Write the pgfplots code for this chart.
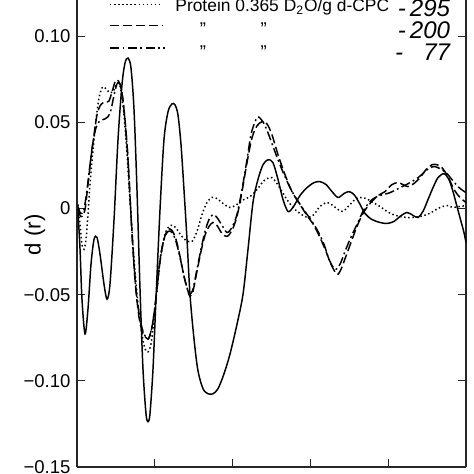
\documentclass[border=0pt]{standalone}
\usepackage{fontspec}
\setmainfont{Liberation Sans}
\usepackage{pgfplots}
\pgfplotsset{compat=1.18}
\begin{document}
\begin{tikzpicture}
\useasboundingbox (-41.58pt,-3.78pt) rectangle (214.38pt,252.18pt);
\begin{axis}[
  at={(0,0)}, anchor=south west,
  scale only axis, width=210.06pt, height=252.18pt,
  xmin=0, xmax=5, ymin=-0.15, ymax=0.121,
  axis x line*=bottom, axis y line*=box,
  tick align=inside,
  xtick={1,2,3,4}, xticklabels={},
  ytick={-0.15,-0.10,-0.05,0,0.05,0.10},
  yticklabels={−0.15,−0.10,−0.05,0,0.05,0.10},
  yticklabel style={font=\fontsize{10}{12}\selectfont},
  /pgf/number format/assume math mode=true,
  axis line style={line width=0.6pt, black!85},
  major tick style={line width=0.6pt, black!85},
  ylabel={d (r)},
  every axis y label/.style={at={(axis description cs:-0.108,0.497)}, rotate=90, anchor=center, font=\fontsize{12}{14}\selectfont},
  every axis plot/.append style={line width=0.8pt, black},
  clip=false,
]
% solid
\addplot[smooth, tension=0.5] coordinates {
(0.013,-0.0023) (0.039,-0.0237) (0.064,-0.0526) (0.103,-0.0728) (0.141,-0.0584) (0.180,-0.0324) (0.219,-0.0179) (0.257,-0.0168) (0.296,-0.0266) (0.347,-0.0439) (0.386,-0.0526) (0.424,-0.0439) (0.476,-0.0064) (0.527,0.0399) (0.578,0.0717) (0.617,0.0844) (0.656,0.0873) (0.694,0.0815) (0.733,0.0572) (0.771,0.0110) (0.810,-0.0468) (0.848,-0.0931) (0.887,-0.1191) (0.913,-0.1237) (0.938,-0.1191) (0.977,-0.0931) (1.015,-0.0526) (1.067,-0.0006) (1.118,0.0399) (1.170,0.0561) (1.221,0.0607) (1.260,0.0601) (1.298,0.0543) (1.337,0.0370) (1.375,0.0110) (1.414,-0.0179) (1.452,-0.0497) (1.504,-0.0757) (1.555,-0.0942) (1.620,-0.1046) (1.684,-0.1075) (1.748,-0.1075) (1.812,-0.1046) (1.889,-0.0960) (1.967,-0.0844) (2.057,-0.0671) (2.134,-0.0497) (2.198,-0.0237) (2.262,0.0035) (2.326,0.0168) (2.391,0.0254) (2.455,0.0283) (2.519,0.0266) (2.584,0.0168) (2.648,0.0052) (2.712,-0.0017) (2.776,0.0006) (2.866,0.0075) (2.956,0.0121) (3.046,0.0150) (3.123,0.0156) (3.201,0.0139) (3.278,0.0098) (3.355,0.0064) (3.432,0.0087) (3.496,0.0098) (3.560,0.0081) (3.625,0.0035) (3.702,-0.0029) (3.792,-0.0064) (3.895,-0.0081) (3.985,-0.0087) (4.075,-0.0075) (4.152,-0.0046) (4.242,-0.0023) (4.319,-0.0040) (4.383,-0.0052) (4.447,-0.0017) (4.512,0.0052) (4.576,0.0121) (4.640,0.0179) (4.717,0.0202) (4.781,0.0168) (4.833,0.0098) (4.884,0.0012) (4.936,-0.0075) (4.974,-0.0139) (5.0,-0.0197)
};
% dash-dot (77)
\addplot[smooth, tension=0.5, dash pattern=on 5pt off 1.8pt on 1pt off 1.8pt] coordinates {
(0.013,0.0012) (0.039,-0.0023) (0.064,-0.0029) (0.090,-0.0006) (0.129,0.0110) (0.167,0.0254) (0.206,0.0387) (0.244,0.0468) (0.283,0.0503) (0.321,0.0514) (0.360,0.0520) (0.398,0.0532) (0.437,0.0572) (0.476,0.0659) (0.514,0.0723) (0.540,0.0728) (0.566,0.0699) (0.604,0.0572) (0.656,0.0283) (0.707,-0.0150) (0.758,-0.0468) (0.810,-0.0642) (0.861,-0.0728) (0.913,-0.0757) (0.951,-0.0711) (0.990,-0.0613) (1.028,-0.0468) (1.067,-0.0295) (1.118,-0.0179) (1.170,-0.0133) (1.221,-0.0139) (1.272,-0.0191) (1.324,-0.0283) (1.375,-0.0393) (1.427,-0.0480) (1.452,-0.0497) (1.491,-0.0468) (1.542,-0.0353) (1.594,-0.0237) (1.645,-0.0133) (1.697,-0.0064) (1.748,-0.0035) (1.799,-0.0052) (1.864,-0.0098) (1.928,-0.0139) (1.992,-0.0110) (2.056,-0.0035) (2.121,0.0110) (2.185,0.0283) (2.236,0.0428) (2.288,0.0503) (2.326,0.0532) (2.391,0.0503) (2.455,0.0439) (2.545,0.0329) (2.635,0.0225) (2.738,0.0121) (2.827,0.0052) (2.930,-0.0017) (3.020,-0.0075) (3.098,-0.0133) (3.175,-0.0208) (3.239,-0.0295) (3.316,-0.0353) (3.380,-0.0324) (3.445,-0.0249) (3.509,-0.0179) (3.599,-0.0092) (3.689,-0.0006) (3.792,0.0052) (3.894,0.0075) (4.023,0.0092) (4.152,0.0121) (4.280,0.0150) (4.383,0.0179) (4.473,0.0214) (4.537,0.0237) (4.601,0.0243) (4.666,0.0231) (4.743,0.0208) (4.820,0.0168) (4.897,0.0127) (4.961,0.0104) (5.000,0.0092)
};
% dashed (200)
\addplot[smooth, tension=0.5, dash pattern=on 5pt off 2pt] coordinates {
(0.013,-0.0006) (0.039,-0.0040) (0.064,-0.0046) (0.103,-0.0006) (0.141,0.0139) (0.180,0.0295) (0.219,0.0428) (0.257,0.0543) (0.296,0.0595) (0.334,0.0613) (0.373,0.0618) (0.411,0.0624) (0.450,0.0676) (0.488,0.0734) (0.514,0.0746) (0.553,0.0723) (0.591,0.0630) (0.643,0.0370) (0.694,-0.0035) (0.745,-0.0410) (0.797,-0.0630) (0.848,-0.0723) (0.913,-0.0757) (0.951,-0.0717) (0.990,-0.0613) (1.028,-0.0468) (1.067,-0.0306) (1.118,-0.0179) (1.170,-0.0121) (1.221,-0.0127) (1.272,-0.0179) (1.324,-0.0277) (1.375,-0.0393) (1.427,-0.0480) (1.452,-0.0509) (1.491,-0.0480) (1.542,-0.0364) (1.594,-0.0249) (1.645,-0.0156) (1.697,-0.0104) (1.748,-0.0081) (1.799,-0.0098) (1.864,-0.0145) (1.928,-0.0162) (1.992,-0.0127) (2.056,-0.0046) (2.121,0.0098) (2.185,0.0266) (2.249,0.0410) (2.314,0.0480) (2.378,0.0503) (2.442,0.0491) (2.506,0.0428) (2.584,0.0312) (2.673,0.0197) (2.763,0.0098) (2.866,0.0023) (2.956,-0.0040) (3.046,-0.0098) (3.123,-0.0168) (3.201,-0.0249) (3.265,-0.0324) (3.342,-0.0382) (3.393,-0.0353) (3.457,-0.0277) (3.522,-0.0197) (3.599,-0.0104) (3.676,-0.0029) (3.766,0.0029) (3.869,0.0075) (3.959,0.0098) (4.049,0.0139) (4.126,0.0150) (4.190,0.0139) (4.254,0.0127) (4.331,0.0145) (4.409,0.0179) (4.486,0.0225) (4.563,0.0254) (4.627,0.0254) (4.691,0.0237) (4.768,0.0185) (4.846,0.0110) (4.923,0.0064) (5.000,0.0035)
};
% dotted (295)
\addplot[smooth, tension=0.5, dash pattern=on 0.8pt off 1.4pt] coordinates {
(0.013,0.0023) (0.039,-0.0092) (0.064,-0.0208) (0.090,-0.0237) (0.116,-0.0179) (0.141,-0.0035) (0.167,0.0139) (0.206,0.0341) (0.244,0.0514) (0.283,0.0642) (0.321,0.0699) (0.347,0.0705) (0.386,0.0688) (0.424,0.0671) (0.463,0.0676) (0.501,0.0717) (0.527,0.0728) (0.553,0.0711) (0.591,0.0601) (0.630,0.0399) (0.681,0.0052) (0.733,-0.0295) (0.784,-0.0555) (0.835,-0.0728) (0.874,-0.0815) (0.913,-0.0832) (0.951,-0.0786) (0.990,-0.0642) (1.028,-0.0468) (1.080,-0.0266) (1.131,-0.0150) (1.182,-0.0104) (1.234,-0.0098) (1.285,-0.0121) (1.337,-0.0156) (1.401,-0.0185) (1.478,-0.0191) (1.542,-0.0133) (1.607,-0.0035) (1.671,0.0035) (1.735,0.0064) (1.799,0.0058) (1.877,0.0029) (1.966,0.0006) (2.056,0.0023) (2.146,0.0052) (2.224,0.0069) (2.314,0.0110) (2.391,0.0156) (2.442,0.0173) (2.506,0.0179) (2.571,0.0145) (2.635,0.0098) (2.699,0.0052) (2.776,0.0006) (2.866,-0.0029) (2.969,-0.0052) (3.046,-0.0035) (3.123,0.0012) (3.213,0.0035) (3.290,0.0017) (3.355,-0.0006) (3.419,-0.0017) (3.509,0.0023) (3.586,0.0058) (3.638,0.0064) (3.715,0.0058) (3.805,0.0035) (3.894,0.0012) (3.984,-0.0017) (4.062,-0.0035) (4.152,-0.0046) (4.242,-0.0052) (4.319,-0.0052) (4.409,-0.0046) (4.499,-0.0035) (4.576,-0.0017) (4.640,0.0000) (4.704,0.0012) (4.768,0.0017) (4.833,0.0006) (4.923,0.0012) (5.000,0.0017)
};
% legend samples
\addplot[dash pattern=on 0.8pt off 1.4pt] coordinates {(0.424,0.1185) (1.08,0.1185)};
\addplot[dash pattern=on 5pt off 2pt] coordinates {(0.424,0.1063) (1.105,0.1063)};
\addplot[dash pattern=on 5pt off 1.8pt on 1pt off 1.8pt] coordinates {(0.424,0.0931) (1.13,0.0931)};
\node[anchor=west, inner sep=0pt, font=\fontsize{9.4}{11}\selectfont] at (axis cs:1.26,0.1168) {Protein 0.365 D\textsubscript{2}O/g d-CPC};
\node[inner sep=0pt, font=\fontsize{10}{12}\selectfont] at (axis cs:1.62,0.1040) {''};
\node[inner sep=0pt, font=\fontsize{10}{12}\selectfont] at (axis cs:2.40,0.1040) {''};
\node[inner sep=0pt, font=\fontsize{10}{12}\selectfont] at (axis cs:1.62,0.0910) {''};
\node[inner sep=0pt, font=\fontsize{10}{12}\selectfont] at (axis cs:2.40,0.0910) {''};
\node[anchor=east, inner sep=0pt, font=\fontsize{13}{15}\selectfont\itshape] at (axis cs:4.80,0.1162) {-\,295};
\node[anchor=east, inner sep=0pt, font=\fontsize{13}{15}\selectfont\itshape] at (axis cs:4.80,0.1035) {-\,200};
\node[anchor=east, inner sep=0pt, font=\fontsize{13}{15}\selectfont\itshape] at (axis cs:4.80,0.0907) {-~~~77};
\end{axis}
\end{tikzpicture}
\end{document}
